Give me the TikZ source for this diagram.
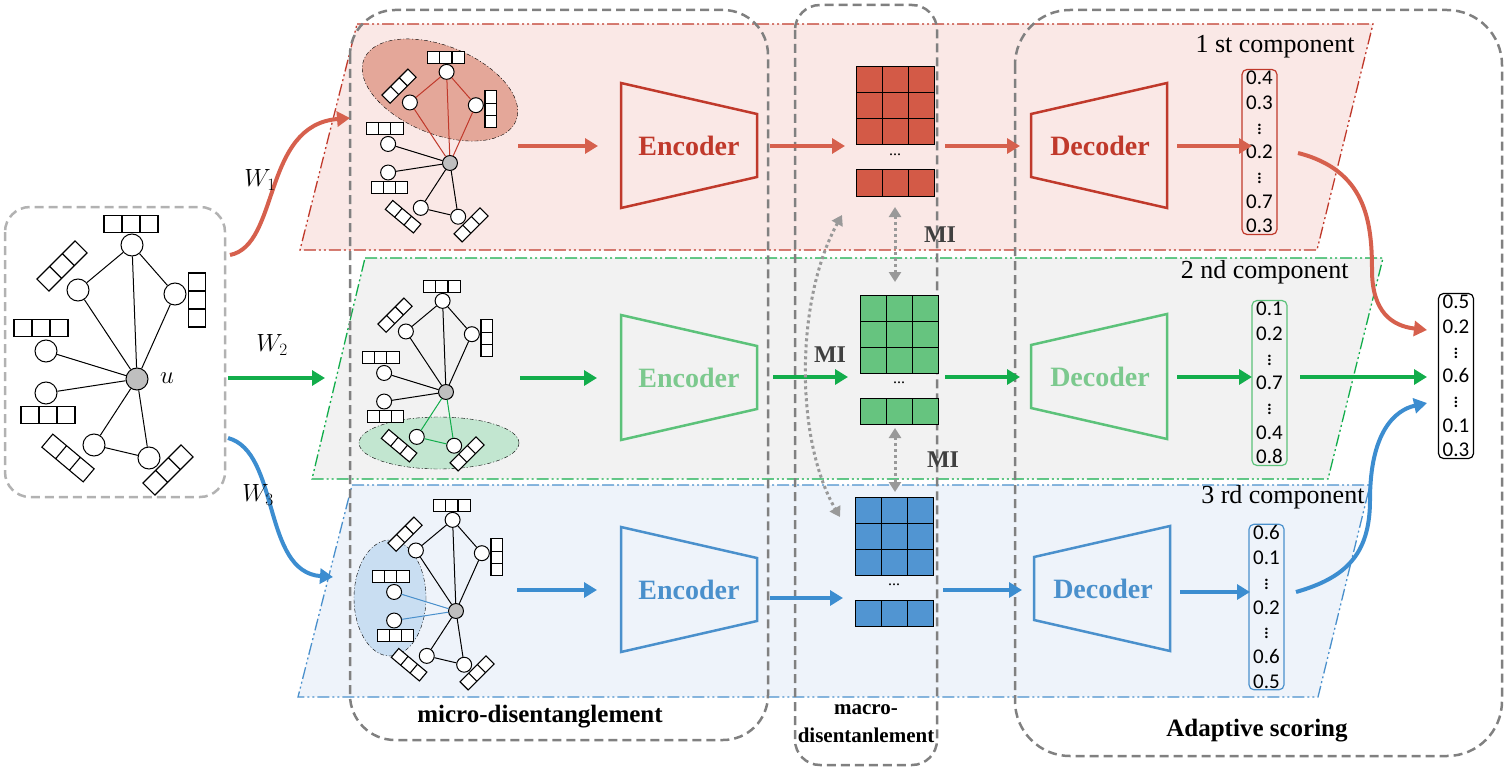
\documentclass[tikz,border=0pt]{standalone}
\usepackage{fontspec}
\setmainfont{Liberation Serif}
\newfontfamily\carl{Carlito}
\usetikzlibrary{arrows.meta}
\definecolor{redS}{HTML}{C0392B}\definecolor{redA}{HTML}{D6604D}\definecolor{redF}{HTML}{FAE8E6}
\definecolor{redM}{HTML}{D35A47}\definecolor{redE}{HTML}{E4A799}
\definecolor{grnS}{HTML}{5CC27A}\definecolor{grnA}{HTML}{12AD4B}\definecolor{grnF}{HTML}{F2F2F2}
\definecolor{grnM}{HTML}{66C47F}\definecolor{grnE}{HTML}{C2E6D0}\definecolor{grnT}{HTML}{7CC98E}
\definecolor{bluS}{HTML}{4A90CC}\definecolor{bluA}{HTML}{3C8DD0}\definecolor{bluF}{HTML}{EEF3FA}
\definecolor{bluM}{HTML}{5195D2}\definecolor{bluE}{HTML}{C9DEF2}
\definecolor{gbox}{HTML}{808080}
\tikzset{
 gnode/.style={circle,draw,fill=white,minimum size=22pt,inner sep=0pt,line width=1pt,transform shape},
 pics/fb/.style={code={\draw[fill=white,line width=1.1pt] (-27,-8.5) rectangle (27,8.5) (-9,-8.5)--(-9,8.5) (9,-8.5)--(9,8.5);}},
 pics/graph/.style n args={4}{code={
  \begin{scope}[scale=#4]
  \node[gnode,fill=gray!50] (-u) at (0,0) {};
  \node[gnode] (-t) at (-5,-134) {};
  \node[gnode] (-lu) at (-59,-89) {};
  \node[gnode] (-r) at (38,-85) {};
  \node[gnode] (-l1) at (-91,-28) {};
  \node[gnode] (-l2) at (-91,14) {};
  \node[gnode] (-bl) at (-43,66) {};
  \node[gnode] (-br) at (12,79) {};
  \draw[line width=1pt,#1] (-u)--(-t) (-u)--(-lu) (-u)--(-r) (-t)--(-lu) (-t)--(-r);
  \draw[line width=1pt,#2] (-u)--(-bl) (-u)--(-br) (-bl)--(-br);
  \draw[line width=1pt,#3] (-u)--(-l1) (-u)--(-l2);
  \pic[scale=#4] at (-6,-155) {fb};
  \pic[scale=#4,rotate=45] at (-75,-113) {fb};
  \pic[scale=#4,rotate=90] at (60,-79) {fb};
  \pic[scale=#4] at (-96,-51) {fb};
  \pic[scale=#4] at (-89,36) {fb};
  \pic[scale=#4,rotate=-40] at (-69,79) {fb};
  \pic[scale=#4,rotate=45] at (31,91) {fb};
  \end{scope}
 }},
 pics/mat/.style={code={
  \foreach \i in {0,1,2}{\foreach \j in {0,1,2}{\draw[fill=#1,line width=1pt] (\i*26,\j*26) rectangle +(26,26);}
   \draw[fill=#1,line width=1pt] (\i*26,103) rectangle +(26,26);}
  \node[font=\fontsize{16}{16}\selectfont] at (39,88) {...};
 }},
 arr/.style={line width=4pt,-{Triangle[length=13pt,width=15pt]}},
 para/.style={line width=1.3pt,dash pattern=on 12pt off 3pt on 2pt off 3pt on 2pt off 3pt},
 gdash/.style={draw=gbox,line width=2.5pt,dash pattern=on 9pt off 5pt},
 score/.style={draw,rounded corners=5pt,line width=1.2pt,minimum width=35pt,inner sep=1.5pt,align=center,font=\carl\fontsize{21}{24.7}\selectfont,text=black},
 coder/.style={line width=2.5pt},
 ctext/.style={font=\bfseries\fontsize{28}{28}\selectfont},
 mi/.style={line width=3pt,draw=gray!80,dash pattern=on 3pt off 3pt,{Triangle[length=10pt,width=12pt]}-{Triangle[length=10pt,width=12pt]}},
 mit/.style={font=\bfseries\fontsize{24}{24}\selectfont,text=black!75},
 comp/.style={anchor=east,font=\itshape\fontsize{26}{26}\selectfont},
 lab/.style={font=\bfseries\fontsize{25}{28}\selectfont,align=center}
}
\begin{document}
\begin{tikzpicture}[x=1pt,y=-1pt]
\useasboundingbox (0,0) rectangle (1505,773);
% parallelograms
\draw[para,draw=redS,fill=redF] (357,24)--(1373,24)--(1317,250)--(300,250)--cycle;
\draw[para,draw=grnA,fill=grnF] (365,258)--(1383,258)--(1328,479)--(312,479)--cycle;
\draw[para,draw=bluS,fill=bluF] (352,485)--(1370,485)--(1318,697)--(298,697)--cycle;
% ellipses
\fill[redE,draw=black,dash pattern=on 4pt off 2pt on 1pt off 2pt] (440,90) ellipse[x radius=82,y radius=44,rotate=-22];
\fill[grnE,draw=black,dash pattern=on 4pt off 2pt on 1pt off 2pt] (439,443) ellipse[x radius=80,y radius=26];
\fill[bluE,draw=black,dash pattern=on 4pt off 2pt on 1pt off 2pt] (390,598) ellipse[x radius=36,y radius=58];
% graphs
\draw[gdash,draw=gray!60,rounded corners=25pt] (5,207) rectangle (225,497);
\pic (g) at (137,379) {graph={black}{black}{black}{1}};
\node[font=\fontsize{24}{24}\selectfont] at (167,378) {$u$};
\pic (rg) at (450,163) {graph={redS}{black}{black}{0.68}};
\pic (gg) at (446,392) {graph={black}{grnA}{black}{0.68}};
\pic (bg) at (456,611) {graph={black}{black}{bluS}{0.68}};
% gray boxes
\draw[gdash,rounded corners=45pt] (350,10) rectangle (768,740);
\draw[gdash,rounded corners=25pt] (795,5) rectangle (937,765);
\draw[gdash,rounded corners=55pt] (1015,10) rectangle (1502,756);
% encoders / decoders
\draw[coder,draw=redS] (621,83)--(757,114)--(757,177)--(621,208)--cycle;
\node[ctext,text=redS] (enc1) at (689,146) {Encoder};
\draw[coder,draw=grnS] (621,315)--(757,346)--(757,409)--(621,440)--cycle;
\node[ctext,text=grnT] (enc2) at (689,378) {Encoder};
\draw[coder,draw=bluS] (621,527)--(757,558)--(757,621)--(621,652)--cycle;
\node[ctext,text=bluS] (enc3) at (689,590) {Encoder};
\draw[coder,draw=redS] (1031,114)--(1167,83)--(1167,208)--(1031,177)--cycle;
\node[ctext,text=redS] (dec1) at (1100,146) {Decoder};
\draw[coder,draw=grnS] (1031,345)--(1167,314)--(1167,439)--(1031,408)--cycle;
\node[ctext,text=grnT] (dec2) at (1100,377) {Decoder};
\draw[coder,draw=bluS] (1034,557)--(1170,526)--(1170,651)--(1034,620)--cycle;
\node[ctext,text=bluS] (dec3) at (1103,589) {Decoder};
% matrices
\pic at (856,67) {mat=redM};
\pic at (860,295) {mat=grnM};
\pic at (855,497) {mat=bluM};
% scores
\node[score,draw=redS] (s1) at (1259.5,152) {0.4\\0.3\\$\vdots$\\0.2\\$\vdots$\\0.7\\0.3};
\node[score,draw=grnS] (s2) at (1269.5,383) {0.1\\0.2\\$\vdots$\\0.7\\$\vdots$\\0.4\\0.8};
\node[score,draw=bluS] (s3) at (1266.5,607) {0.6\\0.1\\$\vdots$\\0.2\\$\vdots$\\0.6\\0.5};
\node[score,draw=black] (fin) at (1456,376) {0.5\\0.2\\$\vdots$\\0.6\\$\vdots$\\0.1\\0.3};
% input arrows
\coordinate (in1) at (350,118);\coordinate (in3) at (333,577);
\draw[arr,draw=redA] (230,255) .. controls (280,245) and (262,125) .. (in1);
\draw[arr,draw=grnA] (228,378) -- (325,378);
\draw[arr,draw=bluA] (228,438) .. controls (280,452) and (262,572) .. (in3);
\node[font=\fontsize{25}{25}\selectfont] at (260,180) {$W_1$};
\node[font=\fontsize{25}{25}\selectfont] at (272,345) {$W_2$};
\node[font=\fontsize{25}{25}\selectfont] at (258,495) {$W_3$};
% row arrows
\draw[arr,draw=redA] (518,146)--(598,146); \draw[arr,draw=redA] (770,146)--(845,146);
\draw[arr,draw=redA] (945,146)--(1020,146); \draw[arr,draw=redA] (1177,146)--(1252,146);
\draw[arr,draw=grnA] (520,378)--(597,378); \draw[arr,draw=grnA] (773,377)--(848,377);
\draw[arr,draw=grnA] (945,377)--(1020,377); \draw[arr,draw=grnA] (1177,377)--(1252,377);
\draw[arr,draw=grnA] (1300,377)--(1427,377);
\draw[arr,draw=bluA] (517,590)--(597,590); \draw[arr,draw=bluA] (770,598)--(843,598);
\draw[arr,draw=bluA] (943,590)--(1022,590); \draw[arr,draw=bluA] (1180,592)--(1250,592);
\draw[arr,draw=redA] (1298,153) .. controls (1365,170) and (1372,220) .. (1372,270) .. controls (1372,312) and (1392,326) .. (1427,330);
\draw[arr,draw=bluA] (1296,592) .. controls (1345,578) and (1370,555) .. (1370,500) .. controls (1370,432) and (1395,410) .. (1427,403);
% MI
\draw[mi] (895,207)--(895,282);
\draw[mi] (895,428)--(895,492);
\draw[mi] (842,215) .. controls (795,300) and (795,440) .. (840,517);
\node[mit] at (940,235) {MI};
\node[mit] at (830,355) {MI};
\node[mit] at (943,460) {MI};
% component labels
\node[comp] at (1358,47) {\upshape1 st component};
\node[comp] at (1352,272) {\upshape2 nd component};
\node[comp] at (1368,497) {\upshape3 rd component};
% bottom labels
\node[lab] at (540,717) {micro-disentanglement};
\node[lab,font=\bfseries\fontsize{21}{28}\selectfont] at (866,724) {macro-\\disentanlement};
\node[lab] at (1257,731) {Adaptive scoring};
\end{tikzpicture}
\end{document}
